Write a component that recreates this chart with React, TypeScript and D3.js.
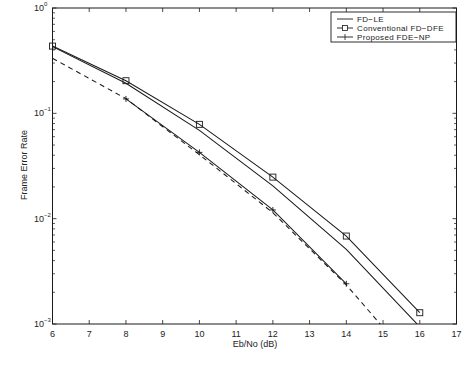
import React from "react";
import * as d3 from "d3";

const ebno = [6, 8, 10, 12, 14, 16];
const fdLE = [0.43, 0.193, 0.069, 0.0205, 0.0051, 0.00094];
const convDFE = [0.435, 0.204, 0.0786, 0.0248, 0.00684, 0.00128];
const npX = [8, 10, 12, 14];
const propNP = [0.137, 0.0426, 0.0121, 0.00241];
const dashX = [6, 8, 10, 12, 14, 15];
const dashY = [0.333, 0.138, 0.0405, 0.0114, 0.00235, 0.00093];
const xTicks = [6, 7, 8, 9, 10, 11, 12, 13, 14, 15, 16, 17];
const yDecades = [0, -1, -2, -3];
const legendLabels = ["FD\u2212LE", "Conventional FD\u2212DFE", "Proposed FDE\u2212NP"];

const W = 474, H = 372;
const L = 52.5, R = 456.5, T = 8, B = 324;
const FONT = "Liberation Sans, Arial, Helvetica, sans-serif";

export default function App() {
  const x = d3.scaleLinear().domain([6, 17]).range([L, R]);
  const y = d3.scaleLog().domain([1e-3, 1]).range([B, T]);
  const line = d3.line<[number, number]>().x(d => x(d[0])).y(d => y(d[1]));
  const pairs = (xs: number[], ys: number[]) => xs.map((v, i) => [v, ys[i]] as [number, number]);

  const minor: number[] = [];
  for (const e of [-3, -2, -1]) for (let k = 2; k <= 9; k++) minor.push(k * Math.pow(10, e));

  const stroke = "#1a1a1a";
  return (
    <svg width={W} height={H} style={{ position: "absolute", left: 0, top: 0, background: "#fff" }}>
      <defs>
        <clipPath id="plotclip"><rect x={L} y={T} width={R - L} height={B - T} /></clipPath>
      </defs>
      <rect x={0} y={0} width={W} height={H} fill="#fff" />
      {xTicks.map(t => (
        <g key={"xt" + t}>
          <line x1={x(t)} x2={x(t)} y1={B} y2={B - 4} stroke={stroke} strokeWidth={0.8} />
          <line x1={x(t)} x2={x(t)} y1={T} y2={T + 4} stroke={stroke} strokeWidth={0.8} />
          <text x={x(t)} y={337} fontSize={9} fontFamily={FONT} textAnchor="middle" fill="#222">{t}</text>
        </g>
      ))}
      {yDecades.map(e => (
        <g key={"yd" + e}>
          <line x1={L} x2={L + 4} y1={y(Math.pow(10, e))} y2={y(Math.pow(10, e))} stroke={stroke} strokeWidth={0.8} />
          <line x1={R} x2={R - 4} y1={y(Math.pow(10, e))} y2={y(Math.pow(10, e))} stroke={stroke} strokeWidth={0.8} />
          <text x={34} y={y(Math.pow(10, e)) + 3} fontSize={9} fontFamily={FONT} fill="#222">
            10<tspan fontSize={6} dy={-5}>{e === 0 ? "0" : "\u2212" + Math.abs(e)}</tspan>
          </text>
        </g>
      ))}
      {minor.map((v, i) => (
        <g key={"mn" + i}>
          <line x1={L} x2={L + 2.5} y1={y(v)} y2={y(v)} stroke={stroke} strokeWidth={0.7} />
          <line x1={R} x2={R - 2.5} y1={y(v)} y2={y(v)} stroke={stroke} strokeWidth={0.7} />
        </g>
      ))}
      <rect x={L} y={T} width={R - L} height={B - T} fill="none" stroke={stroke} strokeWidth={1} />
      <g clipPath="url(#plotclip)" fill="none" stroke={stroke} strokeWidth={1.05}>
        <path d={line(pairs(ebno, fdLE)) || ""} />
        <path d={line(pairs(ebno, convDFE)) || ""} />
        <path d={line(pairs(npX, propNP)) || ""} />
        <path d={line(pairs(dashX, dashY)) || ""} strokeDasharray="5,4" />
      </g>
      {ebno.map((v, i) => (
        <rect key={"sq" + i} x={x(v) - 3} y={y(convDFE[i]) - 3} width={6} height={6} fill="none" stroke={stroke} strokeWidth={0.9} />
      ))}
      {npX.map((v, i) => (
        <g key={"pl" + i} stroke={stroke} strokeWidth={0.9}>
          <line x1={x(v) - 3} x2={x(v) + 3} y1={y(propNP[i])} y2={y(propNP[i])} />
          <line x1={x(v)} x2={x(v)} y1={y(propNP[i]) - 3} y2={y(propNP[i]) + 3} />
        </g>
      ))}
      <g>
        <rect x={331} y={12} width={125} height={30} fill="#fff" stroke={stroke} strokeWidth={0.9} />
        {legendLabels.map((lab, i) => {
          const ly = 19 + i * 9;
          return (
            <g key={"lg" + i}>
              <line x1={337} x2={353} y1={ly} y2={ly} stroke={stroke} strokeWidth={0.9} />
              {i === 1 && <rect x={342.5} y={ly - 2.5} width={5} height={5} fill="#fff" stroke={stroke} strokeWidth={0.8} />}
              {i === 2 && <line x1={345} x2={345} y1={ly - 3} y2={ly + 3} stroke={stroke} strokeWidth={0.8} />}
              <text x={357} y={ly + 3} fontSize={8} letterSpacing={0.35} fontFamily={FONT} fill="#222">{lab}</text>
            </g>
          );
        })}
      </g>
      <text x={255} y={347} fontSize={9} fontFamily={FONT} textAnchor="middle" fill="#222">Eb/No (dB)</text>
      <text transform="translate(27,165) rotate(-90)" fontSize={9} fontFamily={FONT} textAnchor="middle" fill="#222">Frame Error Rate</text>
    </svg>
  );
}
